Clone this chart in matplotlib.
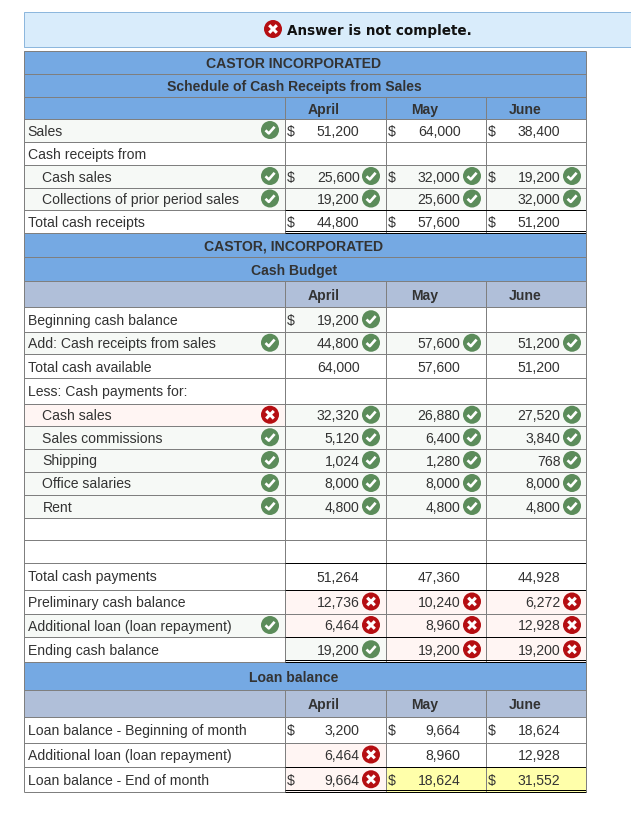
import matplotlib

matplotlib.use("Agg")
import matplotlib.pyplot as plt
from matplotlib.patches import Circle, Rectangle

plt.rcParams["font.family"] = ["Liberation Sans", "DejaVu Sans"]

W, H = 631, 829
TEXT = "#333333"
GRID = "#7f7f7f"
BLUE = "#75a9e3"
LILAC = "#b0bfd9"
TINT = {"ok": "#f6f9f6", "x": "#fff5f3", "hi": "#ffffaa", None: "#ffffff"}

# table values, one list per row
months = ["April", "May", "June"]
sales = [51200, 64000, 38400]
cash_sales = [25600, 32000, 19200]
collections = [19200, 25600, 32000]
total_receipts = [44800, 57600, 51200]
beginning_cash = [19200, None, None]
add_receipts = [44800, 57600, 51200]
total_available = [64000, 57600, 51200]
pay_cash_sales = [32320, 26880, 27520]
pay_commissions = [5120, 6400, 3840]
pay_shipping = [1024, 1280, 768]
pay_salaries = [8000, 8000, 8000]
pay_rent = [4800, 4800, 4800]
total_payments = [51264, 47360, 44928]
preliminary = [12736, 10240, 6272]
additional_loan = [6464, 8960, 12928]
ending_cash = [19200, 19200, 19200]
loan_begin = [3200, 9664, 18624]
loan_additional = [6464, 8960, 12928]
loan_end = [9664, 18624, 31552]

# layout in pixels
LEFT, RIGHT = 23.5, 585.5
COLS = [284.5, 385.5, 485.5, 585.5]


def fmt_px(px):
    return px * 72 / 100


fig = plt.figure(figsize=(W / 100, H / 100), dpi=100)
ax = fig.add_axes([0, 0, 1, 1])
ax.set_xlim(0, W)
ax.set_ylim(H, 0)
ax.axis("off")


def hline(y, x0, x1, color=GRID, lw=1.0):
    ax.plot([x0, x1], [y, y], color=color, lw=lw * 0.72, solid_capstyle="butt", zorder=3)


def vline(x, y0, y1, color=GRID):
    ax.plot([x, x], [y0, y1], color=color, lw=0.72, solid_capstyle="butt", zorder=3)


def fill(x0, x1, y0, y1, color):
    ax.add_patch(Rectangle((x0, y0), x1 - x0, y1 - y0, fc=color, ec="none", zorder=1))


def mark(x, y, kind):
    color = "#5b8c5a" if kind == "ok" else "#b50e12"
    ax.add_patch(Circle((x, y), 9, fc=color, ec="none", zorder=4))
    if kind == "ok":
        xs, ys = [x - 4.5, x - 1.2, x + 4.6], [y + 0.3, y + 3.4, y - 3.2]
        ax.plot(xs, ys, color="white", lw=1.9, solid_capstyle="butt", zorder=5)
    else:
        ax.plot([x - 3.8, x + 3.8], [y - 3.8, y + 3.8], color="white", lw=2.2, solid_capstyle="butt", zorder=5)
        ax.plot([x - 3.8, x + 3.8], [y + 3.8, y - 3.8], color="white", lw=2.2, solid_capstyle="butt", zorder=5)


def label_text(x, y, s, **kw):
    ax.text(x, y, s, fontsize=fmt_px(14), color=TEXT, va="baseline", zorder=6, **kw)


def band(y0, y1, title, color=BLUE):
    fill(LEFT, RIGHT, y0, y1, color)
    hline(y1, LEFT, RIGHT)
    label_text(294, (y0 + y1) / 2 + 5, title, ha="center", fontweight="bold")


def month_header(y0, y1, color):
    fill(LEFT, RIGHT, y0, y1, color)
    hline(y1, LEFT, RIGHT)
    vline(COLS[0], y0, y1)
    vline(COLS[1], y0, y1)
    vline(COLS[2], y0, y1)
    for i, month in enumerate(months):
        label_text(COLS[i] + 39.5, (y0 + y1) / 2 + 5, month, ha="center", fontweight="bold")


def row(y0, y1, label="", values=None, indent=False, label_mark=None, marks=(None, None, None),
        dollars=(False, False, False), tints=None, top_black=False, bottom="grey"):
    fill(LEFT, COLS[0], y0, y1, TINT[label_mark])
    mid = (y0 + y1) / 2
    for i in range(3):
        tint = tints[i] if tints else marks[i]
        fill(COLS[i], COLS[i + 1], y0, y1, TINT[tint])
        vline(COLS[i], y0, y1)
        if dollars[i]:
            label_text(COLS[i] + 2, mid + 4.5, "$")
        if values and values[i] is not None:
            label_text(COLS[i] + 75, mid + 4.5, f"{values[i]:,}", ha="right")
        if marks[i]:
            mark(COLS[i] + 86.5, mid, marks[i])
    if label:
        label_text(42.5 if indent else 27.5, mid + 4.5, label)
    if label_mark:
        mark(270, mid, label_mark)
    hline(y1, LEFT, RIGHT)
    if top_black:
        hline(y0, COLS[0], RIGHT, color="black")
    if bottom == "double":
        hline(y1 - 2, COLS[0], RIGHT, color="black")
        hline(y1, COLS[0], RIGHT, color="black")


# answer banner
ax.add_patch(Rectangle((23.5, 12.5), 608, 35, fc="#d9ecfb", ec="#8db7dd", lw=0.72, zorder=1))
mark(273, 30, "x")
ax.text(287, 35, "Answer is not complete.", fontsize=fmt_px(13.5), fontweight="bold",
        family=["DejaVu Sans"], color="#111111", va="baseline", zorder=6)

OK3 = ("ok", "ok", "ok")
X3 = ("x", "x", "x")
D3 = (True, True, True)

# schedule of cash receipts
hline(51.5, LEFT, RIGHT)
band(51.5, 74.5, "CASTOR INCORPORATED")
band(74.5, 97.5, "Schedule of Cash Receipts from Sales")
month_header(97.5, 119.5, BLUE)
row(119.5, 142.5, "Sales", sales, label_mark="ok", dollars=D3)
row(142.5, 165.5, "Cash receipts from")
row(165.5, 188.5, "Cash sales", cash_sales, indent=True, label_mark="ok", marks=OK3, dollars=D3)
row(188.5, 210.5, "Collections of prior period sales", collections, indent=True, label_mark="ok", marks=OK3)
row(210.5, 233.5, "Total cash receipts", total_receipts, dollars=D3, top_black=True, bottom="double")

# cash budget
band(233.5, 257.5, "CASTOR, INCORPORATED")
band(257.5, 282, "Cash Budget")
month_header(282, 308, LILAC)
row(308, 332.5, "Beginning cash balance", beginning_cash, marks=("ok", None, None), dollars=(True, False, False))
row(332.5, 355, "Add: Cash receipts from sales", add_receipts, label_mark="ok", marks=OK3)
row(355, 379, "Total cash available", total_available)
row(379, 404.5, "Less: Cash payments for:")
row(404.5, 427, "Cash sales", pay_cash_sales, indent=True, label_mark="x", marks=OK3)
row(427, 449.5, "Sales commissions", pay_commissions, indent=True, label_mark="ok", marks=OK3)
row(449.5, 472.5, "Shipping", pay_shipping, indent=True, label_mark="ok", marks=OK3)
row(472.5, 495.5, "Office salaries", pay_salaries, indent=True, label_mark="ok", marks=OK3)
row(495.5, 518.5, "Rent", pay_rent, indent=True, label_mark="ok", marks=OK3)
row(518.5, 540.5)
row(540.5, 563.5)
row(563.5, 590.5, "Total cash payments", total_payments, top_black=True)
row(590.5, 614.5, "Preliminary cash balance", preliminary, marks=X3, top_black=True)
row(614.5, 637.5, "Additional loan (loan repayment)", additional_loan, label_mark="ok", marks=X3)
row(637.5, 663, "Ending cash balance", ending_cash, marks=("ok", "x", "x"), top_black=True, bottom="double")

# loan balance
band(663, 690.5, "Loan balance")
month_header(690.5, 717.5, LILAC)
row(717.5, 743.5, "Loan balance - Beginning of month", loan_begin, dollars=D3)
row(743.5, 767.5, "Additional loan (loan repayment)", loan_additional, marks=("x", None, None))
row(767.5, 793, "Loan balance - End of month", loan_end, marks=("x", None, None), dollars=D3,
    tints=("x", "hi", "hi"), top_black=True, bottom="double")

# outer frame
vline(LEFT, 51.5, 793)
vline(RIGHT, 51.5, 793)

fig.savefig("out.png", dpi=100, facecolor="white")
